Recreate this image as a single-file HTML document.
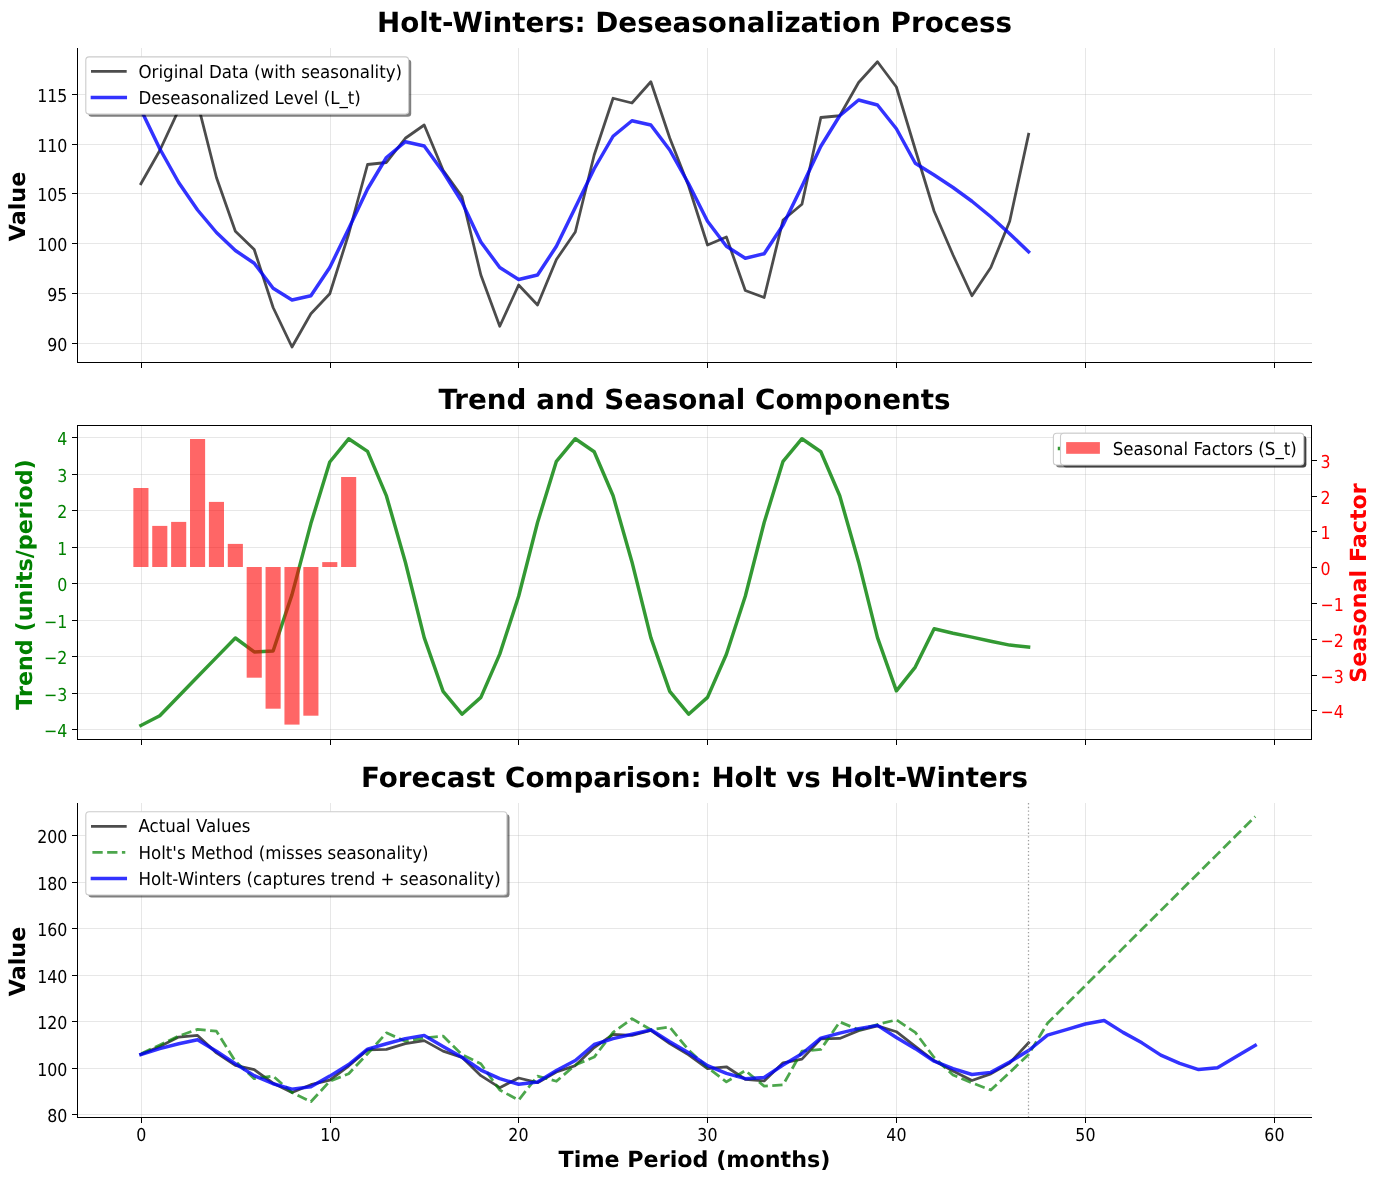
<!DOCTYPE html>
<html lang="en"><head><meta charset="utf-8"><title>Holt-Winters: Deseasonalization Process</title>
<style>html,body{margin:0;padding:0;background:#fff}svg{display:block}text{white-space:pre;text-rendering:geometricPrecision}</style></head>
<body>
<svg width="1381" height="1180" viewBox="0 0 1381 1180" font-family="'DejaVu Sans','Liberation Sans',sans-serif">
<rect width="1381" height="1180" fill="#fff"/>
<line x1="141.50" y1="48.00" x2="141.50" y2="362.50" stroke="#b0b0b0" stroke-width="1" stroke-opacity="0.3" shape-rendering="crispEdges"/>
<line x1="330.50" y1="48.00" x2="330.50" y2="362.50" stroke="#b0b0b0" stroke-width="1" stroke-opacity="0.3" shape-rendering="crispEdges"/>
<line x1="518.50" y1="48.00" x2="518.50" y2="362.50" stroke="#b0b0b0" stroke-width="1" stroke-opacity="0.3" shape-rendering="crispEdges"/>
<line x1="707.50" y1="48.00" x2="707.50" y2="362.50" stroke="#b0b0b0" stroke-width="1" stroke-opacity="0.3" shape-rendering="crispEdges"/>
<line x1="896.50" y1="48.00" x2="896.50" y2="362.50" stroke="#b0b0b0" stroke-width="1" stroke-opacity="0.3" shape-rendering="crispEdges"/>
<line x1="1085.50" y1="48.00" x2="1085.50" y2="362.50" stroke="#b0b0b0" stroke-width="1" stroke-opacity="0.3" shape-rendering="crispEdges"/>
<line x1="1274.50" y1="48.00" x2="1274.50" y2="362.50" stroke="#b0b0b0" stroke-width="1" stroke-opacity="0.3" shape-rendering="crispEdges"/>
<line x1="77.50" y1="343.50" x2="1311.50" y2="343.50" stroke="#b0b0b0" stroke-width="1" stroke-opacity="0.3" shape-rendering="crispEdges"/>
<line x1="77.50" y1="293.50" x2="1311.50" y2="293.50" stroke="#b0b0b0" stroke-width="1" stroke-opacity="0.3" shape-rendering="crispEdges"/>
<line x1="77.50" y1="243.50" x2="1311.50" y2="243.50" stroke="#b0b0b0" stroke-width="1" stroke-opacity="0.3" shape-rendering="crispEdges"/>
<line x1="77.50" y1="193.50" x2="1311.50" y2="193.50" stroke="#b0b0b0" stroke-width="1" stroke-opacity="0.3" shape-rendering="crispEdges"/>
<line x1="77.50" y1="144.50" x2="1311.50" y2="144.50" stroke="#b0b0b0" stroke-width="1" stroke-opacity="0.3" shape-rendering="crispEdges"/>
<line x1="77.50" y1="94.50" x2="1311.50" y2="94.50" stroke="#b0b0b0" stroke-width="1" stroke-opacity="0.3" shape-rendering="crispEdges"/>
<polyline points="140.90,183.75 159.79,150.50 178.67,109.80 197.56,102.80 216.45,177.50 235.34,231.25 254.22,249.50 273.11,307.50 292.00,347.00 310.88,313.75 329.77,293.75 348.66,234.00 367.54,164.50 386.43,162.50 405.32,138.25 424.21,125.00 443.09,170.20 461.98,196.50 480.87,275.00 499.75,326.25 518.64,285.00 537.53,305.00 556.41,259.50 575.30,232.00 594.19,155.00 613.08,98.25 631.96,103.00 650.85,81.75 669.74,138.00 688.62,186.00 707.51,245.00 726.40,237.00 745.28,290.50 764.17,297.50 783.06,220.00 801.95,204.25 820.83,117.50 839.72,115.75 858.61,82.50 877.49,61.75 896.38,87.00 915.27,149.50 934.15,211.25 953.04,255.00 971.93,295.75 990.81,267.50 1009.70,221.25 1028.59,134.25" fill="none" stroke="#000" stroke-opacity="0.7" stroke-width="2.78" stroke-linejoin="round" stroke-linecap="square"/>
<polyline points="140.90,109.50 159.79,148.75 178.67,182.50 197.56,210.00 216.45,232.50 235.34,250.50 254.22,263.25 273.11,288.25 292.00,300.00 310.88,295.75 329.77,267.50 348.66,228.80 367.54,189.00 386.43,157.50 405.32,141.75 424.21,146.00 443.09,172.00 461.98,202.00 480.87,242.00 499.75,267.50 518.64,279.50 537.53,275.00 556.41,246.25 575.30,207.50 594.19,168.75 613.08,136.25 631.96,120.75 650.85,125.00 669.74,150.00 688.62,183.75 707.51,221.25 726.40,246.25 745.28,258.25 764.17,253.75 783.06,225.00 801.95,186.25 820.83,146.25 839.72,115.75 858.61,100.00 877.49,105.00 896.38,128.75 915.27,163.25 934.15,175.00 953.04,187.50 971.93,201.25 990.81,216.75 1009.70,233.75 1028.59,251.75" fill="none" stroke="#00f" stroke-opacity="0.8" stroke-width="3.47" stroke-linejoin="round" stroke-linecap="square"/>
<line x1="77.50" y1="48.00" x2="77.50" y2="362.50" stroke="#000" stroke-width="1" stroke-opacity="1" shape-rendering="crispEdges"/>
<line x1="77.50" y1="362.50" x2="1311.50" y2="362.50" stroke="#000" stroke-width="1" stroke-opacity="1" shape-rendering="crispEdges"/>
<line x1="72.10" y1="343.50" x2="77.50" y2="343.50" stroke="#000" stroke-width="1" stroke-opacity="1" shape-rendering="crispEdges"/>
<text transform="translate(67.40 351.00) scale(0.95 1.07)" font-size="16.67" text-anchor="end" fill="#000">90</text>
<line x1="72.10" y1="293.50" x2="77.50" y2="293.50" stroke="#000" stroke-width="1" stroke-opacity="1" shape-rendering="crispEdges"/>
<text transform="translate(67.40 301.00) scale(0.95 1.07)" font-size="16.67" text-anchor="end" fill="#000">95</text>
<line x1="72.10" y1="243.50" x2="77.50" y2="243.50" stroke="#000" stroke-width="1" stroke-opacity="1" shape-rendering="crispEdges"/>
<text transform="translate(67.40 251.00) scale(0.95 1.07)" font-size="16.67" text-anchor="end" fill="#000">100</text>
<line x1="72.10" y1="193.50" x2="77.50" y2="193.50" stroke="#000" stroke-width="1" stroke-opacity="1" shape-rendering="crispEdges"/>
<text transform="translate(67.40 201.00) scale(0.95 1.07)" font-size="16.67" text-anchor="end" fill="#000">105</text>
<line x1="72.10" y1="144.50" x2="77.50" y2="144.50" stroke="#000" stroke-width="1" stroke-opacity="1" shape-rendering="crispEdges"/>
<text transform="translate(67.40 152.00) scale(0.95 1.07)" font-size="16.67" text-anchor="end" fill="#000">110</text>
<line x1="72.10" y1="94.50" x2="77.50" y2="94.50" stroke="#000" stroke-width="1" stroke-opacity="1" shape-rendering="crispEdges"/>
<text transform="translate(67.40 102.00) scale(0.95 1.07)" font-size="16.67" text-anchor="end" fill="#000">115</text>
<line x1="141.50" y1="362.50" x2="141.50" y2="367.90" stroke="#000" stroke-width="1" stroke-opacity="1" shape-rendering="crispEdges"/>
<line x1="330.50" y1="362.50" x2="330.50" y2="367.90" stroke="#000" stroke-width="1" stroke-opacity="1" shape-rendering="crispEdges"/>
<line x1="518.50" y1="362.50" x2="518.50" y2="367.90" stroke="#000" stroke-width="1" stroke-opacity="1" shape-rendering="crispEdges"/>
<line x1="707.50" y1="362.50" x2="707.50" y2="367.90" stroke="#000" stroke-width="1" stroke-opacity="1" shape-rendering="crispEdges"/>
<line x1="896.50" y1="362.50" x2="896.50" y2="367.90" stroke="#000" stroke-width="1" stroke-opacity="1" shape-rendering="crispEdges"/>
<line x1="1085.50" y1="362.50" x2="1085.50" y2="367.90" stroke="#000" stroke-width="1" stroke-opacity="1" shape-rendering="crispEdges"/>
<line x1="1274.50" y1="362.50" x2="1274.50" y2="367.90" stroke="#000" stroke-width="1" stroke-opacity="1" shape-rendering="crispEdges"/>
<text x="25.40" y="206.50" font-size="22.22" text-anchor="middle" font-weight="bold" fill="#000" transform="rotate(-90 25.40 206.50)">Value</text>
<text x="694.50" y="31.70" font-size="27.78" text-anchor="middle" font-weight="bold" fill="#000">Holt-Winters: Deseasonalization Process</text>
<rect x="88.40" y="59.50" width="322.80" height="57.20" rx="3.3" ry="3.3" fill="#000" fill-opacity="0.5"/>
<rect x="85.80" y="56.90" width="322.80" height="57.20" rx="3.3" ry="3.3" fill="#fff" stroke="#ccc" stroke-width="1.1"/>
<line x1="92.40" y1="71.40" x2="125.30" y2="71.40" stroke="#000" stroke-width="2.78" stroke-opacity="0.7" stroke-linecap="square"/>
<line x1="92.40" y1="97.40" x2="125.30" y2="97.40" stroke="#00f" stroke-width="3.47" stroke-opacity="0.8" stroke-linecap="square"/>
<text transform="translate(138.50 77.80) scale(1 1.07)" font-size="16.67" text-anchor="start" fill="#000">Original Data (with seasonality)</text>
<text transform="translate(138.50 103.90) scale(1 1.07)" font-size="16.67" text-anchor="start" fill="#000">Deseasonalized Level (L_t)</text>
<line x1="141.50" y1="425.50" x2="141.50" y2="739.50" stroke="#b0b0b0" stroke-width="1" stroke-opacity="0.3" shape-rendering="crispEdges"/>
<line x1="330.50" y1="425.50" x2="330.50" y2="739.50" stroke="#b0b0b0" stroke-width="1" stroke-opacity="0.3" shape-rendering="crispEdges"/>
<line x1="518.50" y1="425.50" x2="518.50" y2="739.50" stroke="#b0b0b0" stroke-width="1" stroke-opacity="0.3" shape-rendering="crispEdges"/>
<line x1="707.50" y1="425.50" x2="707.50" y2="739.50" stroke="#b0b0b0" stroke-width="1" stroke-opacity="0.3" shape-rendering="crispEdges"/>
<line x1="896.50" y1="425.50" x2="896.50" y2="739.50" stroke="#b0b0b0" stroke-width="1" stroke-opacity="0.3" shape-rendering="crispEdges"/>
<line x1="1085.50" y1="425.50" x2="1085.50" y2="739.50" stroke="#b0b0b0" stroke-width="1" stroke-opacity="0.3" shape-rendering="crispEdges"/>
<line x1="1274.50" y1="425.50" x2="1274.50" y2="739.50" stroke="#b0b0b0" stroke-width="1" stroke-opacity="0.3" shape-rendering="crispEdges"/>
<line x1="77.50" y1="729.50" x2="1311.50" y2="729.50" stroke="#b0b0b0" stroke-width="1" stroke-opacity="0.3" shape-rendering="crispEdges"/>
<line x1="77.50" y1="693.50" x2="1311.50" y2="693.50" stroke="#b0b0b0" stroke-width="1" stroke-opacity="0.3" shape-rendering="crispEdges"/>
<line x1="77.50" y1="656.50" x2="1311.50" y2="656.50" stroke="#b0b0b0" stroke-width="1" stroke-opacity="0.3" shape-rendering="crispEdges"/>
<line x1="77.50" y1="620.50" x2="1311.50" y2="620.50" stroke="#b0b0b0" stroke-width="1" stroke-opacity="0.3" shape-rendering="crispEdges"/>
<line x1="77.50" y1="583.50" x2="1311.50" y2="583.50" stroke="#b0b0b0" stroke-width="1" stroke-opacity="0.3" shape-rendering="crispEdges"/>
<line x1="77.50" y1="547.50" x2="1311.50" y2="547.50" stroke="#b0b0b0" stroke-width="1" stroke-opacity="0.3" shape-rendering="crispEdges"/>
<line x1="77.50" y1="510.50" x2="1311.50" y2="510.50" stroke="#b0b0b0" stroke-width="1" stroke-opacity="0.3" shape-rendering="crispEdges"/>
<line x1="77.50" y1="474.50" x2="1311.50" y2="474.50" stroke="#b0b0b0" stroke-width="1" stroke-opacity="0.3" shape-rendering="crispEdges"/>
<line x1="77.50" y1="437.50" x2="1311.50" y2="437.50" stroke="#b0b0b0" stroke-width="1" stroke-opacity="0.3" shape-rendering="crispEdges"/>
<polyline points="140.90,725.50 159.79,715.70 178.67,696.20 197.56,676.80 216.45,657.40 235.34,638.00 254.22,651.90 273.11,651.00 292.00,594.60 310.88,523.60 329.77,462.00 348.66,438.80 367.54,451.40 386.43,495.90 405.32,562.00 424.21,637.60 443.09,691.30 461.98,714.20 480.87,697.40 499.75,654.10 518.64,596.30 537.53,522.50 556.41,461.30 575.30,438.70 594.19,451.70 613.08,495.80 631.96,561.90 650.85,637.60 669.74,691.30 688.62,714.20 707.51,697.40 726.40,654.20 745.28,596.30 764.17,522.50 783.06,461.30 801.95,438.70 820.83,451.70 839.72,495.80 858.61,561.90 877.49,637.60 896.38,690.80 915.27,667.10 934.15,628.80 953.04,633.20 971.93,637.10 990.81,641.20 1009.70,645.10 1028.59,647.00" fill="none" stroke="#008000" stroke-opacity="0.8" stroke-width="3.47" stroke-linejoin="round" stroke-linecap="square"/>
<rect x="1056.00" y="435.90" width="250.30" height="31.70" rx="3.3" ry="3.3" fill="#000" fill-opacity="0.5"/>
<rect x="1053.40" y="433.30" width="250.30" height="31.70" rx="3.3" ry="3.3" fill="#fff" stroke="#ccc" stroke-width="1.1"/>
<line x1="1059.50" y1="448.45" x2="1092.80" y2="448.45" stroke="#008000" stroke-width="3.47" stroke-opacity="0.8" stroke-linecap="square"/>
<rect x="133.35" y="488.00" width="15.11" height="79.00" fill="#f00" fill-opacity="0.6"/>
<rect x="152.23" y="525.90" width="15.11" height="41.10" fill="#f00" fill-opacity="0.6"/>
<rect x="171.12" y="521.90" width="15.11" height="45.10" fill="#f00" fill-opacity="0.6"/>
<rect x="190.01" y="439.00" width="15.11" height="128.00" fill="#f00" fill-opacity="0.6"/>
<rect x="208.89" y="501.90" width="15.11" height="65.10" fill="#f00" fill-opacity="0.6"/>
<rect x="227.78" y="543.90" width="15.11" height="23.10" fill="#f00" fill-opacity="0.6"/>
<rect x="246.67" y="567.00" width="15.11" height="110.70" fill="#f00" fill-opacity="0.6"/>
<rect x="265.55" y="567.00" width="15.11" height="141.70" fill="#f00" fill-opacity="0.6"/>
<rect x="284.44" y="567.00" width="15.11" height="157.60" fill="#f00" fill-opacity="0.6"/>
<rect x="303.33" y="567.00" width="15.11" height="148.70" fill="#f00" fill-opacity="0.6"/>
<rect x="322.22" y="562.10" width="15.11" height="4.90" fill="#f00" fill-opacity="0.6"/>
<rect x="341.10" y="477.00" width="15.11" height="90.00" fill="#f00" fill-opacity="0.6"/>
<rect x="77.5" y="425.5" width="1234.0" height="314.0" fill="none" stroke="#000" stroke-width="1" shape-rendering="crispEdges"/>
<line x1="72.10" y1="729.50" x2="77.50" y2="729.50" stroke="#000" stroke-width="1" stroke-opacity="1" shape-rendering="crispEdges"/>
<text transform="translate(67.40 737.00) scale(0.95 1.07)" font-size="16.67" text-anchor="end" fill="#008000">−4</text>
<line x1="72.10" y1="693.50" x2="77.50" y2="693.50" stroke="#000" stroke-width="1" stroke-opacity="1" shape-rendering="crispEdges"/>
<text transform="translate(67.40 701.00) scale(0.95 1.07)" font-size="16.67" text-anchor="end" fill="#008000">−3</text>
<line x1="72.10" y1="656.50" x2="77.50" y2="656.50" stroke="#000" stroke-width="1" stroke-opacity="1" shape-rendering="crispEdges"/>
<text transform="translate(67.40 664.00) scale(0.95 1.07)" font-size="16.67" text-anchor="end" fill="#008000">−2</text>
<line x1="72.10" y1="620.50" x2="77.50" y2="620.50" stroke="#000" stroke-width="1" stroke-opacity="1" shape-rendering="crispEdges"/>
<text transform="translate(67.40 628.00) scale(0.95 1.07)" font-size="16.67" text-anchor="end" fill="#008000">−1</text>
<line x1="72.10" y1="583.50" x2="77.50" y2="583.50" stroke="#000" stroke-width="1" stroke-opacity="1" shape-rendering="crispEdges"/>
<text transform="translate(67.40 591.00) scale(0.95 1.07)" font-size="16.67" text-anchor="end" fill="#008000">0</text>
<line x1="72.10" y1="547.50" x2="77.50" y2="547.50" stroke="#000" stroke-width="1" stroke-opacity="1" shape-rendering="crispEdges"/>
<text transform="translate(67.40 555.00) scale(0.95 1.07)" font-size="16.67" text-anchor="end" fill="#008000">1</text>
<line x1="72.10" y1="510.50" x2="77.50" y2="510.50" stroke="#000" stroke-width="1" stroke-opacity="1" shape-rendering="crispEdges"/>
<text transform="translate(67.40 518.00) scale(0.95 1.07)" font-size="16.67" text-anchor="end" fill="#008000">2</text>
<line x1="72.10" y1="474.50" x2="77.50" y2="474.50" stroke="#000" stroke-width="1" stroke-opacity="1" shape-rendering="crispEdges"/>
<text transform="translate(67.40 482.00) scale(0.95 1.07)" font-size="16.67" text-anchor="end" fill="#008000">3</text>
<line x1="72.10" y1="437.50" x2="77.50" y2="437.50" stroke="#000" stroke-width="1" stroke-opacity="1" shape-rendering="crispEdges"/>
<text transform="translate(67.40 445.00) scale(0.95 1.07)" font-size="16.67" text-anchor="end" fill="#008000">4</text>
<line x1="1311.50" y1="710.50" x2="1316.90" y2="710.50" stroke="#000" stroke-width="1" stroke-opacity="1" shape-rendering="crispEdges"/>
<text transform="translate(1320.50 718.00) scale(0.95 1.07)" font-size="16.67" text-anchor="start" fill="#f00">−4</text>
<line x1="1311.50" y1="675.50" x2="1316.90" y2="675.50" stroke="#000" stroke-width="1" stroke-opacity="1" shape-rendering="crispEdges"/>
<text transform="translate(1320.50 683.00) scale(0.95 1.07)" font-size="16.67" text-anchor="start" fill="#f00">−3</text>
<line x1="1311.50" y1="639.50" x2="1316.90" y2="639.50" stroke="#000" stroke-width="1" stroke-opacity="1" shape-rendering="crispEdges"/>
<text transform="translate(1320.50 647.00) scale(0.95 1.07)" font-size="16.67" text-anchor="start" fill="#f00">−2</text>
<line x1="1311.50" y1="603.50" x2="1316.90" y2="603.50" stroke="#000" stroke-width="1" stroke-opacity="1" shape-rendering="crispEdges"/>
<text transform="translate(1320.50 611.00) scale(0.95 1.07)" font-size="16.67" text-anchor="start" fill="#f00">−1</text>
<line x1="1311.50" y1="567.50" x2="1316.90" y2="567.50" stroke="#000" stroke-width="1" stroke-opacity="1" shape-rendering="crispEdges"/>
<text transform="translate(1320.50 575.00) scale(0.95 1.07)" font-size="16.67" text-anchor="start" fill="#f00">0</text>
<line x1="1311.50" y1="531.50" x2="1316.90" y2="531.50" stroke="#000" stroke-width="1" stroke-opacity="1" shape-rendering="crispEdges"/>
<text transform="translate(1320.50 539.00) scale(0.95 1.07)" font-size="16.67" text-anchor="start" fill="#f00">1</text>
<line x1="1311.50" y1="496.50" x2="1316.90" y2="496.50" stroke="#000" stroke-width="1" stroke-opacity="1" shape-rendering="crispEdges"/>
<text transform="translate(1320.50 504.00) scale(0.95 1.07)" font-size="16.67" text-anchor="start" fill="#f00">2</text>
<line x1="1311.50" y1="460.50" x2="1316.90" y2="460.50" stroke="#000" stroke-width="1" stroke-opacity="1" shape-rendering="crispEdges"/>
<text transform="translate(1320.50 468.00) scale(0.95 1.07)" font-size="16.67" text-anchor="start" fill="#f00">3</text>
<line x1="141.50" y1="739.50" x2="141.50" y2="744.90" stroke="#000" stroke-width="1" stroke-opacity="1" shape-rendering="crispEdges"/>
<line x1="330.50" y1="739.50" x2="330.50" y2="744.90" stroke="#000" stroke-width="1" stroke-opacity="1" shape-rendering="crispEdges"/>
<line x1="518.50" y1="739.50" x2="518.50" y2="744.90" stroke="#000" stroke-width="1" stroke-opacity="1" shape-rendering="crispEdges"/>
<line x1="707.50" y1="739.50" x2="707.50" y2="744.90" stroke="#000" stroke-width="1" stroke-opacity="1" shape-rendering="crispEdges"/>
<line x1="896.50" y1="739.50" x2="896.50" y2="744.90" stroke="#000" stroke-width="1" stroke-opacity="1" shape-rendering="crispEdges"/>
<line x1="1085.50" y1="739.50" x2="1085.50" y2="744.90" stroke="#000" stroke-width="1" stroke-opacity="1" shape-rendering="crispEdges"/>
<line x1="1274.50" y1="739.50" x2="1274.50" y2="744.90" stroke="#000" stroke-width="1" stroke-opacity="1" shape-rendering="crispEdges"/>
<text x="32.00" y="584.50" font-size="22.22" text-anchor="middle" font-weight="bold" fill="#008000" transform="rotate(-90 32.00 584.50)">Trend (units/period)</text>
<text x="1366.00" y="583.00" font-size="22.22" text-anchor="middle" font-weight="bold" fill="#f00" transform="rotate(-90 1366.00 583.00)">Seasonal Factor</text>
<text x="694.50" y="409.20" font-size="27.78" text-anchor="middle" font-weight="bold" fill="#000">Trend and Seasonal Components</text>
<rect x="1063.10" y="435.80" width="243.20" height="31.80" rx="3.3" ry="3.3" fill="#000" fill-opacity="0.5"/>
<rect x="1060.50" y="433.20" width="243.20" height="31.80" rx="3.3" ry="3.3" fill="#fff" stroke="#ccc" stroke-width="1.1"/>
<rect x="1066.15" y="442.1" width="33.75" height="11.7" fill="#f00" fill-opacity="0.6"/>
<text transform="translate(1112.80 454.80) scale(1 1.07)" font-size="16.67" text-anchor="start" fill="#000">Seasonal Factors (S_t)</text>
<line x1="141.50" y1="802.60" x2="141.50" y2="1117.50" stroke="#b0b0b0" stroke-width="1" stroke-opacity="0.3" shape-rendering="crispEdges"/>
<line x1="330.50" y1="802.60" x2="330.50" y2="1117.50" stroke="#b0b0b0" stroke-width="1" stroke-opacity="0.3" shape-rendering="crispEdges"/>
<line x1="518.50" y1="802.60" x2="518.50" y2="1117.50" stroke="#b0b0b0" stroke-width="1" stroke-opacity="0.3" shape-rendering="crispEdges"/>
<line x1="707.50" y1="802.60" x2="707.50" y2="1117.50" stroke="#b0b0b0" stroke-width="1" stroke-opacity="0.3" shape-rendering="crispEdges"/>
<line x1="896.50" y1="802.60" x2="896.50" y2="1117.50" stroke="#b0b0b0" stroke-width="1" stroke-opacity="0.3" shape-rendering="crispEdges"/>
<line x1="1085.50" y1="802.60" x2="1085.50" y2="1117.50" stroke="#b0b0b0" stroke-width="1" stroke-opacity="0.3" shape-rendering="crispEdges"/>
<line x1="1274.50" y1="802.60" x2="1274.50" y2="1117.50" stroke="#b0b0b0" stroke-width="1" stroke-opacity="0.3" shape-rendering="crispEdges"/>
<line x1="77.50" y1="1114.50" x2="1311.50" y2="1114.50" stroke="#b0b0b0" stroke-width="1" stroke-opacity="0.3" shape-rendering="crispEdges"/>
<line x1="77.50" y1="1068.50" x2="1311.50" y2="1068.50" stroke="#b0b0b0" stroke-width="1" stroke-opacity="0.3" shape-rendering="crispEdges"/>
<line x1="77.50" y1="1021.50" x2="1311.50" y2="1021.50" stroke="#b0b0b0" stroke-width="1" stroke-opacity="0.3" shape-rendering="crispEdges"/>
<line x1="77.50" y1="975.50" x2="1311.50" y2="975.50" stroke="#b0b0b0" stroke-width="1" stroke-opacity="0.3" shape-rendering="crispEdges"/>
<line x1="77.50" y1="928.50" x2="1311.50" y2="928.50" stroke="#b0b0b0" stroke-width="1" stroke-opacity="0.3" shape-rendering="crispEdges"/>
<line x1="77.50" y1="882.50" x2="1311.50" y2="882.50" stroke="#b0b0b0" stroke-width="1" stroke-opacity="0.3" shape-rendering="crispEdges"/>
<line x1="77.50" y1="835.50" x2="1311.50" y2="835.50" stroke="#b0b0b0" stroke-width="1" stroke-opacity="0.3" shape-rendering="crispEdges"/>
<polyline points="140.90,1054.33 159.79,1046.55 178.67,1037.04 197.56,1035.40 216.45,1052.86 235.34,1065.43 254.22,1069.70 273.11,1083.25 292.00,1092.49 310.88,1084.72 329.77,1080.04 348.66,1066.07 367.54,1049.83 386.43,1049.36 405.32,1043.69 424.21,1040.59 443.09,1051.16 461.98,1057.31 480.87,1075.66 499.75,1087.64 518.64,1077.99 537.53,1082.67 556.41,1072.03 575.30,1065.61 594.19,1047.60 613.08,1034.34 631.96,1035.45 650.85,1030.48 669.74,1043.63 688.62,1054.85 707.51,1068.64 726.40,1066.77 745.28,1079.28 764.17,1080.92 783.06,1062.80 801.95,1059.12 820.83,1038.84 839.72,1038.43 858.61,1030.66 877.49,1025.81 896.38,1031.71 915.27,1046.32 934.15,1060.75 953.04,1070.98 971.93,1080.51 990.81,1073.90 1009.70,1063.09 1028.59,1042.75" fill="none" stroke="#000" stroke-opacity="0.7" stroke-width="2.78" stroke-linejoin="round" stroke-linecap="square"/>
<polyline points="140.90,1053.78 159.79,1044.94 178.67,1036.10 197.56,1029.36 216.45,1031.22 235.34,1061.22 254.22,1078.67 273.11,1076.11 292.00,1092.39 310.88,1101.69 329.77,1081.23 348.66,1073.78 367.54,1053.78 386.43,1032.84 405.32,1041.22 424.21,1037.96 443.09,1036.10 461.98,1054.71 480.87,1063.78 499.75,1090.06 518.64,1100.07 537.53,1076.11 556.41,1081.23 575.30,1064.94 594.19,1057.04 613.08,1032.38 631.96,1018.66 650.85,1029.82 669.74,1027.03 688.62,1050.06 707.51,1067.50 726.40,1081.92 745.28,1070.53 764.17,1086.11 783.06,1084.95 801.95,1051.22 820.83,1049.36 839.72,1021.91 858.61,1029.82 877.49,1024.47 896.38,1019.82 915.27,1032.38 934.15,1057.50 953.04,1074.95 971.93,1082.85 990.81,1090.06 1009.70,1072.39 1028.59,1054.48 1047.48,1023.31 1066.36,1004.51 1085.25,985.71 1104.14,966.91 1123.02,948.11 1141.91,929.32 1160.80,910.52 1179.69,891.72 1198.57,872.92 1217.46,854.12 1236.35,835.33 1255.23,816.53" fill="none" stroke="#008000" stroke-opacity="0.7" stroke-width="2.78" stroke-linejoin="round" stroke-dasharray="10.28 4.44" stroke-dashoffset="-0.77"/>
<polyline points="140.90,1054.48 159.79,1048.66 178.67,1043.78 197.56,1039.82 216.45,1051.22 235.34,1063.78 254.22,1075.64 273.11,1083.78 292.00,1089.13 310.88,1086.81 329.77,1076.11 348.66,1064.48 367.54,1049.13 386.43,1043.78 405.32,1038.66 424.21,1035.40 443.09,1046.57 461.98,1057.27 480.87,1070.06 499.75,1078.67 518.64,1084.25 537.53,1081.92 556.41,1070.53 575.30,1060.52 594.19,1044.47 613.08,1038.66 631.96,1034.24 650.85,1029.82 669.74,1041.68 688.62,1052.85 707.51,1065.64 726.40,1073.32 745.28,1078.67 764.17,1077.50 783.06,1064.94 801.95,1053.78 820.83,1038.19 839.72,1033.08 858.61,1028.66 877.49,1025.40 896.38,1037.50 915.27,1048.66 934.15,1061.22 953.04,1068.67 971.93,1074.48 990.81,1072.39 1009.70,1061.92 1028.59,1050.52 1047.48,1035.17 1066.36,1029.59 1085.25,1024.01 1104.14,1020.52 1123.02,1032.38 1141.91,1042.85 1160.80,1055.17 1179.69,1063.32 1198.57,1069.60 1217.46,1067.73 1236.35,1056.57 1255.23,1045.41" fill="none" stroke="#00f" stroke-opacity="0.8" stroke-width="3.47" stroke-linejoin="round" stroke-linecap="square"/>
<line x1="1028.50" y1="803.10" x2="1028.50" y2="1117.50" stroke="#808080" stroke-width="1.25" stroke-opacity="0.75" stroke-dasharray="1.39 2.29"/>
<line x1="77.50" y1="802.60" x2="77.50" y2="1117.50" stroke="#000" stroke-width="1" stroke-opacity="1" shape-rendering="crispEdges"/>
<line x1="77.50" y1="1117.50" x2="1311.50" y2="1117.50" stroke="#000" stroke-width="1" stroke-opacity="1" shape-rendering="crispEdges"/>
<line x1="72.10" y1="1114.50" x2="77.50" y2="1114.50" stroke="#000" stroke-width="1" stroke-opacity="1" shape-rendering="crispEdges"/>
<text transform="translate(67.40 1122.00) scale(0.95 1.07)" font-size="16.67" text-anchor="end" fill="#000">80</text>
<line x1="72.10" y1="1068.50" x2="77.50" y2="1068.50" stroke="#000" stroke-width="1" stroke-opacity="1" shape-rendering="crispEdges"/>
<text transform="translate(67.40 1076.00) scale(0.95 1.07)" font-size="16.67" text-anchor="end" fill="#000">100</text>
<line x1="72.10" y1="1021.50" x2="77.50" y2="1021.50" stroke="#000" stroke-width="1" stroke-opacity="1" shape-rendering="crispEdges"/>
<text transform="translate(67.40 1029.00) scale(0.95 1.07)" font-size="16.67" text-anchor="end" fill="#000">120</text>
<line x1="72.10" y1="975.50" x2="77.50" y2="975.50" stroke="#000" stroke-width="1" stroke-opacity="1" shape-rendering="crispEdges"/>
<text transform="translate(67.40 983.00) scale(0.95 1.07)" font-size="16.67" text-anchor="end" fill="#000">140</text>
<line x1="72.10" y1="928.50" x2="77.50" y2="928.50" stroke="#000" stroke-width="1" stroke-opacity="1" shape-rendering="crispEdges"/>
<text transform="translate(67.40 936.00) scale(0.95 1.07)" font-size="16.67" text-anchor="end" fill="#000">160</text>
<line x1="72.10" y1="882.50" x2="77.50" y2="882.50" stroke="#000" stroke-width="1" stroke-opacity="1" shape-rendering="crispEdges"/>
<text transform="translate(67.40 890.00) scale(0.95 1.07)" font-size="16.67" text-anchor="end" fill="#000">180</text>
<line x1="72.10" y1="835.50" x2="77.50" y2="835.50" stroke="#000" stroke-width="1" stroke-opacity="1" shape-rendering="crispEdges"/>
<text transform="translate(67.40 843.00) scale(0.95 1.07)" font-size="16.67" text-anchor="end" fill="#000">200</text>
<line x1="141.50" y1="1117.50" x2="141.50" y2="1122.90" stroke="#000" stroke-width="1" stroke-opacity="1" shape-rendering="crispEdges"/>
<text transform="translate(141.40 1140.80) scale(0.95 1.07)" font-size="16.67" text-anchor="middle" fill="#000">0</text>
<line x1="330.50" y1="1117.50" x2="330.50" y2="1122.90" stroke="#000" stroke-width="1" stroke-opacity="1" shape-rendering="crispEdges"/>
<text transform="translate(330.40 1140.80) scale(0.95 1.07)" font-size="16.67" text-anchor="middle" fill="#000">10</text>
<line x1="518.50" y1="1117.50" x2="518.50" y2="1122.90" stroke="#000" stroke-width="1" stroke-opacity="1" shape-rendering="crispEdges"/>
<text transform="translate(518.40 1140.80) scale(0.95 1.07)" font-size="16.67" text-anchor="middle" fill="#000">20</text>
<line x1="707.50" y1="1117.50" x2="707.50" y2="1122.90" stroke="#000" stroke-width="1" stroke-opacity="1" shape-rendering="crispEdges"/>
<text transform="translate(707.40 1140.80) scale(0.95 1.07)" font-size="16.67" text-anchor="middle" fill="#000">30</text>
<line x1="896.50" y1="1117.50" x2="896.50" y2="1122.90" stroke="#000" stroke-width="1" stroke-opacity="1" shape-rendering="crispEdges"/>
<text transform="translate(896.40 1140.80) scale(0.95 1.07)" font-size="16.67" text-anchor="middle" fill="#000">40</text>
<line x1="1085.50" y1="1117.50" x2="1085.50" y2="1122.90" stroke="#000" stroke-width="1" stroke-opacity="1" shape-rendering="crispEdges"/>
<text transform="translate(1085.40 1140.80) scale(0.95 1.07)" font-size="16.67" text-anchor="middle" fill="#000">50</text>
<line x1="1274.50" y1="1117.50" x2="1274.50" y2="1122.90" stroke="#000" stroke-width="1" stroke-opacity="1" shape-rendering="crispEdges"/>
<text transform="translate(1274.40 1140.80) scale(0.95 1.07)" font-size="16.67" text-anchor="middle" fill="#000">60</text>
<text x="25.40" y="961.50" font-size="22.22" text-anchor="middle" font-weight="bold" fill="#000" transform="rotate(-90 25.40 961.50)">Value</text>
<text x="694.50" y="1167.00" font-size="22.22" text-anchor="middle" font-weight="bold" fill="#000">Time Period (months)</text>
<text x="694.50" y="786.80" font-size="27.78" text-anchor="middle" font-weight="bold" fill="#000">Forecast Comparison: Holt vs Holt-Winters</text>
<rect x="88.40" y="814.30" width="421.10" height="83.30" rx="3.3" ry="3.3" fill="#000" fill-opacity="0.5"/>
<rect x="85.80" y="811.70" width="421.10" height="83.30" rx="3.3" ry="3.3" fill="#fff" stroke="#ccc" stroke-width="1.1"/>
<line x1="92.40" y1="826.30" x2="125.30" y2="826.30" stroke="#000" stroke-width="2.78" stroke-opacity="0.7" stroke-linecap="square"/>
<line x1="92.40" y1="852.40" x2="125.30" y2="852.40" stroke="#008000" stroke-width="2.78" stroke-opacity="0.7" stroke-dasharray="10.3 4.45"/>
<line x1="92.40" y1="878.50" x2="125.30" y2="878.50" stroke="#00f" stroke-width="3.47" stroke-opacity="0.8" stroke-linecap="square"/>
<text transform="translate(138.50 832.40) scale(1 1.07)" font-size="16.67" text-anchor="start" fill="#000">Actual Values</text>
<text transform="translate(138.50 858.50) scale(1 1.07)" font-size="16.67" text-anchor="start" fill="#000">Holt's Method (misses seasonality)</text>
<text transform="translate(138.50 884.60) scale(1 1.07)" font-size="16.67" text-anchor="start" fill="#000">Holt-Winters (captures trend + seasonality)</text>
</svg>
</body></html>
